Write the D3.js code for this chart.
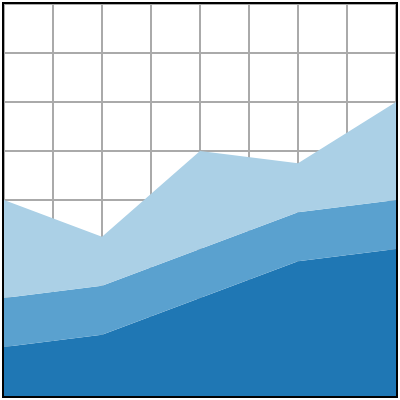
<!DOCTYPE html>
<html><head><meta charset="utf-8">
<script src="https://cdn.jsdelivr.net/npm/d3@7"></script>
<style>body{margin:0;background:#fff}</style></head>
<body><svg id="c" width="400" height="400"></svg>
<script>
const xs = [0, 2, 4, 6, 8];
const seriesA = [1, 1.25, 2, 2.75, 3];
const seriesB = [1, 1, 1, 1, 1];
const seriesC = [2, 1, 2, 1, 2];
const colors = ["#1f77b4", "#5aa1cf", "#abd0e6"];
const gridTicks = d3.range(0, 9);

const svg = d3.select("#c");
const x = d3.scaleLinear().domain([0, 8]).range([4, 396]);
const y = d3.scaleLinear().domain([0, 8]).range([396, 4]);

svg.append("g").selectAll("line.v").data(gridTicks).join("line")
  .attr("x1", d => x(d)).attr("x2", d => x(d)).attr("y1", 4).attr("y2", 396)
  .attr("stroke", "#aaa").attr("stroke-width", 2);
svg.append("g").selectAll("line.h").data(gridTicks).join("line")
  .attr("y1", d => y(d)).attr("y2", d => y(d)).attr("x1", 4).attr("x2", 396)
  .attr("stroke", "#aaa").attr("stroke-width", 2);

const rows = xs.map((v, i) => ({x: v, a: seriesA[i], b: seriesB[i], c: seriesC[i]}));
const stack = d3.stack().keys(["a", "b", "c"])(rows);
const area = d3.area().x(d => x(d.data.x)).y0(d => y(d[0])).y1(d => y(d[1]));
svg.append("g").selectAll("path").data(stack).join("path")
  .attr("d", area).attr("fill", (d, i) => colors[i]);

svg.append("rect").attr("x", 3).attr("y", 3).attr("width", 394).attr("height", 394)
  .attr("fill", "none").attr("stroke", "#000").attr("stroke-width", 2);
</script></body></html>
